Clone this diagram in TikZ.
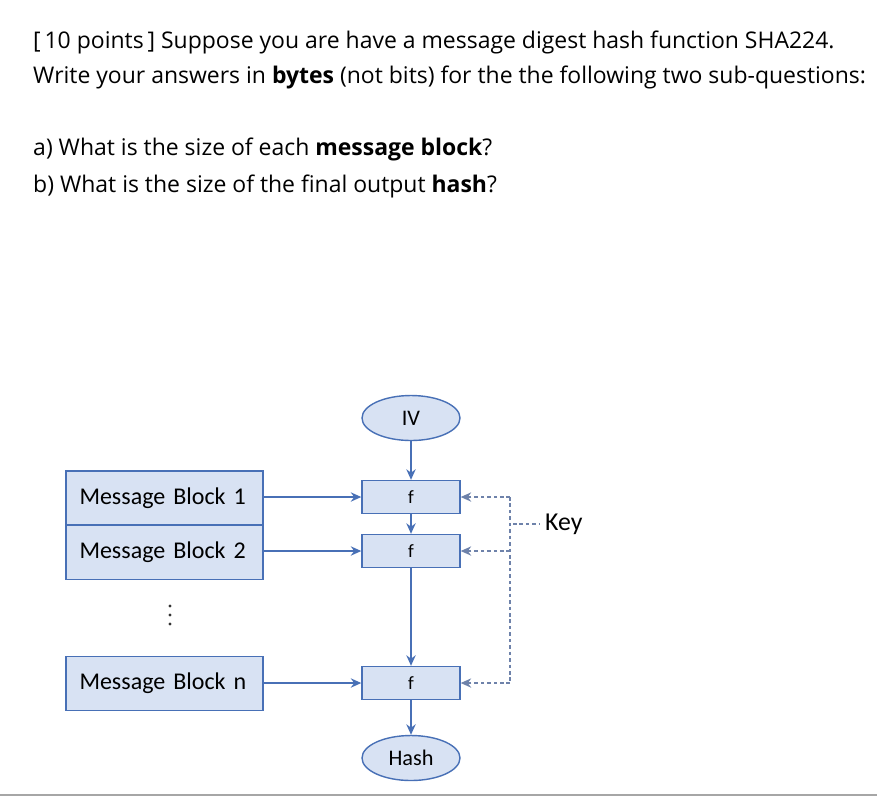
\documentclass[tikz,border=0pt]{standalone}
\usepackage{fontspec}
\setmainfont{Open Sans}
\newfontfamily\diag{Carlito}
\usetikzlibrary{arrows.meta,shapes.geometric}
\definecolor{bfill}{RGB}{216,226,243}
\definecolor{bline}{RGB}{72,112,182}
\definecolor{kline}{RGB}{110,130,170}
\tikzset{
  blk/.style={draw=bline,fill=bfill,line width=1.2pt,minimum width=98*0.03cm,minimum height=33*0.03cm,inner sep=0pt,font=\diag\fontsize{16}{16}\selectfont},
  oval/.style={draw=bline,fill=bfill,line width=1.2pt,ellipse,minimum width=98*0.03cm,minimum height=45*0.03cm,inner sep=0pt,font=\diag\fontsize{19}{19}\selectfont},
  msg/.style={draw=bline,fill=bfill,line width=1.2pt,minimum width=197*0.03cm,minimum height=54*0.03cm,inner sep=0pt,text width=170*0.03cm,align=left,font=\diag\fontsize{20.5}{20.5}\selectfont},
  flow/.style={draw=bline,line width=1.2pt,-{Stealth[length=9pt,width=8pt]}},
  keyl/.style={draw=kline,line width=1.1pt,dash pattern=on 3pt off 2.5pt},
  txt/.style={anchor=west,inner sep=0pt,font=\fontsize{19.6}{19.6}\selectfont}
}
\begin{document}
\begin{tikzpicture}[x=0.03cm,y=-0.03cm]
\useasboundingbox (0,0) rectangle (877,798);
\node[txt] (l1) at (33,42) {[\,10 points\,] Suppose you are have a message digest hash function SHA224.};
\node[txt] (l2) at (33,77) {Write your answers in \textbf{bytes} (not bits) for the the following two sub-questions:};
\node[txt] (qa) at (33,149) {a) What is the size of each \textbf{message block}?};
\node[txt] (qb) at (33,186) {b) What is the size of the final output \textbf{hash}?};
\draw[gray!70,line width=1.5pt] (0,795) -- (877,795);

\node[oval] (iv) at (411,418) {IV};
\node[blk] (f1) at (411,497) {f};
\node[blk] (f2) at (411,551) {f};
\node[blk] (f3) at (411,683) {f};
\node[oval] (hash) at (411,758) {Hash};

\node[msg] (m1) at (164.5,498) {Message Block 1};
\node[msg] (m2) at (164.5,552.5) {Message Block 2};
\node[msg] (mn) at (164.5,683.5) {Message Block n};
% vertical ellipsis
\foreach \y in {606,615,624} \fill[black!80] (170,\y) circle (1.3pt);

\draw[flow] (iv) -- (f1);
\draw[flow] (f1) -- (f2);
\draw[flow] (f2) -- (f3);
\draw[flow] (f3) -- (hash);
\draw[flow] (m1.east |- f1) -- (f1);
\draw[flow] (m2.east |- f2) -- (f2);
\draw[flow] (mn.east |- f3) -- (f3);

\coordinate (k1) at (510,497);
\coordinate (k3) at (510,683);
\coordinate (kb) at (513,524);
\node[anchor=west,inner sep=0pt,font=\diag\fontsize{22}{22}\selectfont] (key) at (545,524) {Key};
\draw[keyl] (k1) -- (k3);
\draw[keyl,-{Stealth[length=9pt,width=8pt]}] (k1) -- (f1);
\draw[keyl,-{Stealth[length=9pt,width=8pt]}] (f2 -| k1) -- (f2);
\draw[keyl,-{Stealth[length=9pt,width=8pt]}] (k3) -- (f3);
\draw[keyl,shorten >=4pt] (kb) -- (key);
\end{tikzpicture}
\end{document}
